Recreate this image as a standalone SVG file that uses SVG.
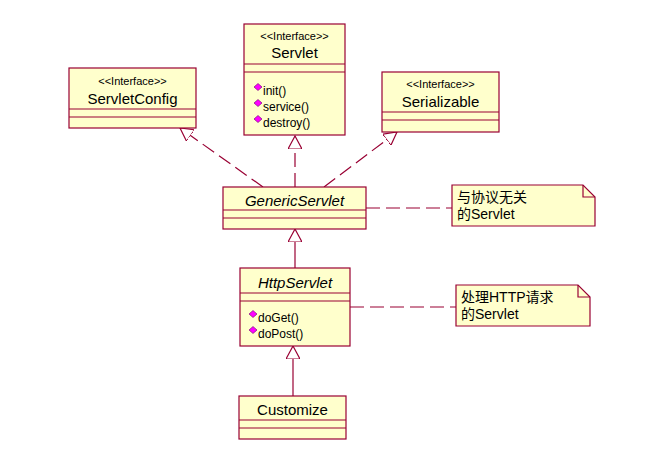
<svg xmlns="http://www.w3.org/2000/svg" width="654" height="464" viewBox="0 0 654 464">
<style>
.b{fill:#ffffcc;stroke:#990033;stroke-width:1.2}
.l{stroke:#990033;stroke-width:1.2;fill:none}
.d{stroke:#990033;stroke-width:1.2;fill:none;stroke-dasharray:14,6}
.t{font-family:"Liberation Sans",Arial,sans-serif;font-size:15px;fill:#000;text-anchor:middle}
.s{font-family:"Liberation Sans",Arial,sans-serif;font-size:11px;fill:#000;text-anchor:middle}
.m{font-family:"Liberation Sans",Arial,sans-serif;font-size:12px;fill:#000}
.n{font-family:"Liberation Sans","Noto Sans CJK SC",sans-serif;font-size:14px;fill:#000}
.dm{fill:#ff00ff;stroke:#660066;stroke-width:0.6}
</style>
<defs>
<marker id="tri" viewBox="0 0 14 14" refX="13" refY="7" markerWidth="14" markerHeight="14" markerUnits="userSpaceOnUse" orient="auto">
<path d="M0,0 L13,7 L0,14 Z" fill="#fff" stroke="#990033" stroke-width="1.2"/>
</marker>
<path id="dia" d="M0,-3.5 L4,0 L0,3.5 L-4,0 Z" class="dm"/>
</defs>
<rect width="654" height="464" fill="#fff"/>
<g id="connectors">
<line class="d" x1="263" y1="187" x2="180" y2="128" marker-end="url(#tri)"/>
<line class="d" x1="295" y1="187" x2="295" y2="136" marker-end="url(#tri)"/>
<line class="d" x1="324" y1="187" x2="397" y2="132" marker-end="url(#tri)"/>
<line class="l" x1="295" y1="268" x2="295" y2="229" marker-end="url(#tri)"/>
<line class="l" x1="293" y1="396" x2="293" y2="346" marker-end="url(#tri)"/>
<line class="d" x1="366" y1="208" x2="452" y2="208"/>
<line class="d" x1="350" y1="307" x2="456" y2="307"/>
</g>
<g id="Servlet">
<rect class="b" x="244" y="24" width="101" height="111"/>
<line class="l" x1="244" y1="64" x2="345" y2="64"/><line class="l" x1="244" y1="72" x2="345" y2="72"/>
<text class="s" x="294.5" y="40">&lt;&lt;Interface&gt;&gt;</text>
<text class="t" x="294.5" y="58">Servlet</text>
<use href="#dia" x="258" y="87"/><text class="m" x="263" y="95">init()</text>
<use href="#dia" x="258" y="103"/><text class="m" x="263" y="111">service()</text>
<use href="#dia" x="258" y="119"/><text class="m" x="263" y="127">destroy()</text>
</g>
<g id="ServletConfig">
<rect class="b" x="69" y="68" width="127" height="60"/>
<line class="l" x1="69" y1="109" x2="196" y2="109"/><line class="l" x1="69" y1="117" x2="196" y2="117"/>
<text class="s" x="132.5" y="85">&lt;&lt;Interface&gt;&gt;</text>
<text class="t" x="132.5" y="104">ServletConfig</text>
</g>
<g id="Serializable">
<rect class="b" x="382" y="72" width="117" height="60"/>
<line class="l" x1="382" y1="112" x2="499" y2="112"/><line class="l" x1="382" y1="120" x2="499" y2="120"/>
<text class="s" x="440.5" y="88">&lt;&lt;Interface&gt;&gt;</text>
<text class="t" x="440.5" y="107">Serializable</text>
</g>
<g id="GenericServlet">
<rect class="b" x="223" y="187" width="143" height="42"/>
<line class="l" x1="223" y1="210" x2="366" y2="210"/><line class="l" x1="223" y1="218" x2="366" y2="218"/>
<text class="t" x="294.5" y="206" font-style="italic">GenericServlet</text>
</g>
<g id="note1">
<path class="b" d="M452,185 H583 L595,197 V226 H452 Z"/>
<path class="l" d="M583,185 V197 H595"/>
<text class="n" x="457" y="202">与协议无关</text>
<text class="n" x="457" y="219">的Servlet</text>
</g>
<g id="HttpServlet">
<rect class="b" x="240" y="268" width="110" height="78"/>
<line class="l" x1="240" y1="293" x2="350" y2="293"/><line class="l" x1="240" y1="301" x2="350" y2="301"/>
<text class="t" x="295" y="288" font-style="italic">HttpServlet</text>
<use href="#dia" x="253" y="314"/><text class="m" x="258" y="322">doGet()</text>
<use href="#dia" x="253" y="330"/><text class="m" x="258" y="338">doPost()</text>
</g>
<g id="note2">
<path class="b" d="M456,285 H578 L590,297 V326 H456 Z"/>
<path class="l" d="M578,285 V297 H590"/>
<text class="n" x="461" y="302">处理HTTP请求</text>
<text class="n" x="461" y="319">的Servlet</text>
</g>
<g id="Customize">
<rect class="b" x="239" y="396" width="107" height="43"/>
<line class="l" x1="239" y1="420" x2="346" y2="420"/><line class="l" x1="239" y1="428" x2="346" y2="428"/>
<text class="t" x="292.5" y="415">Customize</text>
</g>
</svg>
